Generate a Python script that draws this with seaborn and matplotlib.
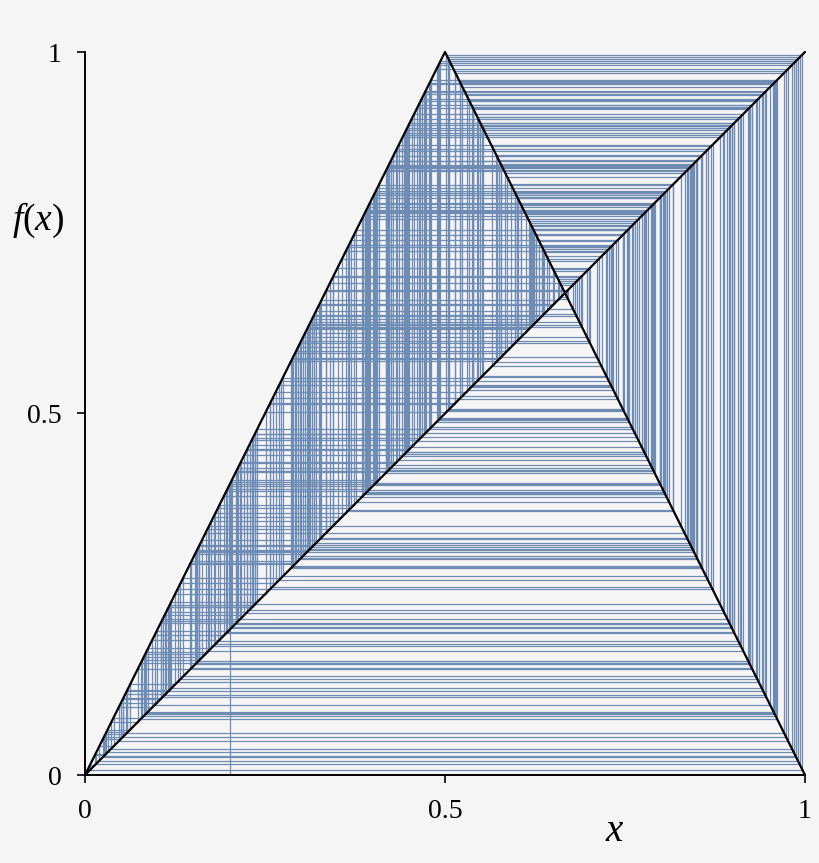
import matplotlib
matplotlib.use("Agg")
import matplotlib.pyplot as plt
import seaborn as sns
import pandas as pd

# orbit of the tent map (starting near x = 0.2)
orbit = [
    0.20137, 0.40274, 0.80548, 0.38904, 0.77808, 0.44384, 0.88768, 0.22464, 0.44928, 0.89856,
    0.20288, 0.40576, 0.81152, 0.37696, 0.75392, 0.49216, 0.98432, 0.03136, 0.06272, 0.12544,
    0.25088, 0.50176, 0.99648, 0.00704, 0.01408, 0.02816, 0.05632, 0.11264, 0.22528, 0.45056,
    0.90112, 0.19776, 0.39552, 0.79104, 0.41792, 0.83584, 0.32832, 0.65664, 0.68672, 0.62656,
    0.74688, 0.50624, 0.98752, 0.02496, 0.04992, 0.09984, 0.19968, 0.39936, 0.79872, 0.40256,
    0.80512, 0.38976, 0.77952, 0.44096, 0.88192, 0.23616, 0.47232, 0.94464, 0.11072, 0.22144,
    0.44288, 0.88576, 0.22848, 0.45696, 0.91392, 0.17216, 0.34432, 0.68864, 0.62272, 0.75456,
    0.49088, 0.98176, 0.03648, 0.07296, 0.14592, 0.29184, 0.58368, 0.83264, 0.33472, 0.66944,
    0.66112, 0.67776, 0.64448, 0.71104, 0.57792, 0.84416, 0.31168, 0.62336, 0.75328, 0.49344,
    0.98688, 0.02624, 0.05248, 0.10496, 0.20992, 0.41984, 0.83968, 0.32064, 0.64128, 0.71744,
    0.56512, 0.86976, 0.26048, 0.52096, 0.95808, 0.08384, 0.16768, 0.33536, 0.67072, 0.65856,
    0.68288, 0.63424, 0.73152, 0.53696, 0.92608, 0.14784, 0.29568, 0.59136, 0.81728, 0.36544,
    0.73088, 0.53824, 0.92352, 0.15296, 0.30592, 0.61184, 0.77632, 0.44736, 0.89472, 0.21056,
    0.42112, 0.84224, 0.31552, 0.63104, 0.73792, 0.52416, 0.95168, 0.09664, 0.19328, 0.38656,
    0.77312, 0.45376, 0.90752, 0.18496, 0.36992, 0.73984, 0.52032, 0.95936, 0.08128, 0.16256,
    0.32512, 0.65024, 0.69952, 0.60096, 0.79808, 0.40384, 0.80768, 0.38464, 0.76928, 0.46144,
    0.92288, 0.15424, 0.30848, 0.61696, 0.76608, 0.46784, 0.93568, 0.12864, 0.25728, 0.51456,
    0.97088, 0.05824, 0.11648, 0.23296, 0.46592, 0.93184, 0.13632, 0.27264, 0.54528, 0.90944,
    0.18112, 0.36224, 0.72448, 0.55104, 0.89792, 0.20416, 0.40832, 0.81664, 0.36672, 0.73344,
    0.53312, 0.93376, 0.13248, 0.26496, 0.52992, 0.94016, 0.11968, 0.23936, 0.47872, 0.95744,
    0.08512, 0.17024, 0.34048, 0.68096, 0.63808, 0.72384, 0.55232, 0.89536, 0.20928, 0.41856,
    0.83712, 0.32576, 0.65152, 0.69696, 0.60608, 0.78784, 0.42432, 0.84864, 0.30272, 0.60544,
    0.78912, 0.42176, 0.84352, 0.31296, 0.62592, 0.74816, 0.50368, 0.99264, 0.01472, 0.02944,
    0.05888, 0.11776, 0.23552, 0.47104, 0.94208, 0.11584, 0.23168, 0.46336, 0.92672, 0.14656,
    0.29312, 0.58624, 0.82752, 0.34496, 0.68992, 0.62016, 0.75968, 0.48064, 0.96128, 0.07744,
    0.15488, 0.30976, 0.61952, 0.76096, 0.47808, 0.95616, 0.08768, 0.17536, 0.35072, 0.70144,
    0.59712, 0.80576, 0.38848, 0.77696, 0.44608, 0.89216, 0.21568, 0.43136, 0.86272, 0.27456,
    0.54912, 0.90176, 0.19648, 0.39296, 0.78592, 0.42816, 0.85632, 0.28736, 0.57472, 0.85056,
    0.29888, 0.59776, 0.80448, 0.39104, 0.78208, 0.43584, 0.87168, 0.25664, 0.51328, 0.97344,
    0.05312, 0.10624, 0.21248, 0.42496, 0.84992, 0.30016, 0.60032, 0.79936, 0.40128, 0.80256,
    0.39488, 0.78976, 0.42048, 0.84096, 0.31808, 0.63616, 0.72768, 0.54464, 0.91072, 0.17856,
    0.35712, 0.71424, 0.57152, 0.85696, 0.28608, 0.57216, 0.85568, 0.28864, 0.57728, 0.84544,
    0.30912, 0.61824, 0.76352, 0.47296, 0.94592, 0.10816, 0.21632, 0.43264, 0.86528, 0.26944,
    0.53888, 0.92224, 0.15552, 0.31104, 0.62208, 0.75584, 0.48832, 0.97664, 0.04672, 0.09344,
    0.18688, 0.37376, 0.74752, 0.50496, 0.99008, 0.01984, 0.03968, 0.07936, 0.15872, 0.31744,
    0.63488, 0.73024, 0.53952, 0.92096, 0.15808, 0.31616,
]

tent_x = [0.0, 0.5, 1.0]
tent_y = [0.0, 1.0, 0.0]
diag_x = [0.0, 1.0]
diag_y = [0.0, 1.0]

ticks = [0, 0.5, 1]
tick_labels = ["0", "0.5", "1"]

# cobweb path: start on the x axis, then vertical to the map, horizontal to the diagonal
xs = [orbit[0]]
ys = [0.0]
for a, b in zip(orbit[:-1], orbit[1:]):
    xs += [a, b]
    ys += [b, b]
web = pd.DataFrame({"x": xs, "y": ys})

sns.set_style("ticks")
plt.rcParams["font.family"] = ["Liberation Serif", "DejaVu Serif"]
plt.rcParams["mathtext.fontset"] = "custom"
plt.rcParams["mathtext.rm"] = "Liberation Serif"
plt.rcParams["mathtext.it"] = "Liberation Serif:italic"
plt.rcParams["text.color"] = "black"

bg = "#f5f5f5"
fig = plt.figure(figsize=(8.2, 8.63), dpi=100, facecolor=bg)
ax = fig.add_axes([85 / 820, 88 / 863, 720 / 820, 723 / 863])
ax.set_facecolor(bg)

sns.lineplot(data=web, x="x", y="y", sort=False, estimator=None,
             color="#36609a", lw=0.9, alpha=0.7, ax=ax)
sns.lineplot(x=tent_x, y=tent_y, sort=False, estimator=None,
             color="black", lw=1.6, ax=ax, clip_on=False)
sns.lineplot(x=diag_x, y=diag_y, sort=False, estimator=None,
             color="black", lw=1.6, ax=ax, clip_on=False)

ax.set_xlim(0, 1)
ax.set_ylim(0, 1)
ax.set_xticks(ticks)
ax.set_xticklabels(tick_labels)
ax.set_yticks(ticks)
ax.set_yticklabels(tick_labels)
ax.tick_params(direction="out", length=6, width=1.2, color="black",
               labelsize=20, pad=11, labelcolor="black")
ax.set_xlabel("")
ax.set_ylabel("")
sns.despine(ax=ax)
for side in ["left", "bottom"]:
    ax.spines[side].set_color("black")
    ax.spines[side].set_linewidth(1.4)

fig.text(38 / 820, 1 - 220 / 863, r"$f(x)$", fontsize=27, ha="center", va="center",
         color="black")
fig.text(615 / 820, 1 - 831 / 863, r"$x$", fontsize=28, ha="center", va="center",
         color="black")

fig.savefig("out.png", dpi=100, facecolor=bg)
